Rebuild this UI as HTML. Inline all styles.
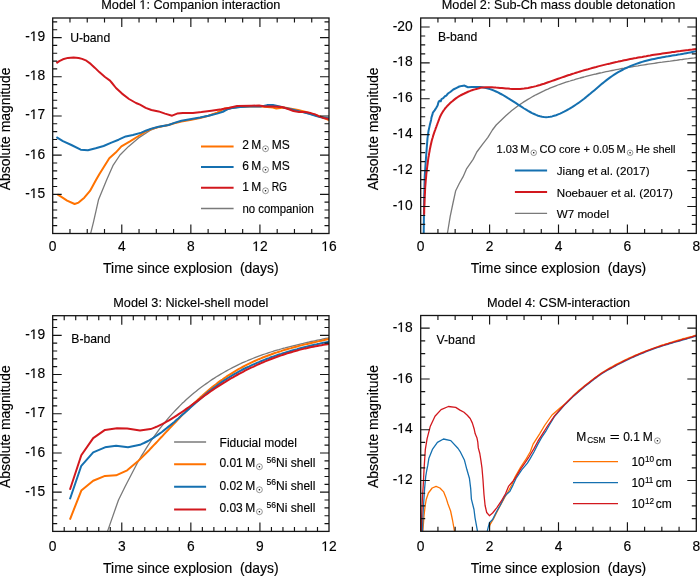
<!DOCTYPE html>
<html><head><meta charset="utf-8"><style>
html,body{margin:0;padding:0;background:#fff;}
body{width:700px;height:576px;overflow:hidden;font-family:"Liberation Sans", sans-serif;}
svg{display:block;will-change:transform;}
text{font-family:"Liberation Sans", sans-serif;stroke:#000;stroke-width:0.15px;}
.one{fill:#000;stroke:#000;stroke-width:22px;}
.sun{fill-opacity:0;stroke-opacity:0;}
</style></head><body>
<svg width="700" height="576" viewBox="0 0 700 576" font-family='"Liberation Sans", sans-serif' fill="#000"><defs><clipPath id="c1"><rect x="52.7" y="18.0" width="276.30" height="215.50"/></clipPath><clipPath id="c2"><rect x="420.7" y="18.0" width="275.60" height="215.40"/></clipPath><clipPath id="c3"><rect x="52.7" y="315.7" width="276.30" height="215.70"/></clipPath><clipPath id="c4"><rect x="420.7" y="315.5" width="275.60" height="215.80"/></clipPath></defs><g clip-path="url(#c1)"><polyline points="90.6,233.6 93.4,222.3 96.3,209.7 98.6,199.4 102.6,189.7 106.6,180.0 112.9,165.7 120.0,155.0 128.6,146.4 138.6,137.9 150.0,130.5 158.6,127.0 168.6,125.0 181.4,121.0 190.0,119.8 200.0,117.8 217.1,113.0 232.9,107.9 251.4,105.9 270.0,105.6 284.3,107.9 301.4,111.8 317.1,116.2 329.5,119.7" fill="none" stroke="#7a7a7a" stroke-width="1.3" stroke-linejoin="round" stroke-linecap="butt"/><polyline points="57.4,194.3 61.4,196.9 67.1,200.6 74.6,204.0 78.6,202.6 84.3,197.7 90.0,190.9 95.7,180.6 99.3,174.3 109.3,158.3 115.7,152.6 121.4,146.4 130.0,141.4 138.6,136.0 145.7,131.5 151.4,129.0 158.6,127.0 168.6,125.0 174.3,123.3 181.4,121.5 190.0,120.0 200.0,118.0 208.6,115.7 217.1,112.6 224.3,108.5 232.9,107.6 240.0,107.1 250.0,106.4 262.0,106.5 272.9,107.6 276.3,108.5 284.3,107.6 291.1,108.7 298.0,109.9 304.9,111.6 314.0,114.4 320.9,116.7 329.5,120.4" fill="none" stroke="#ff7200" stroke-width="2.0" stroke-linejoin="round" stroke-linecap="butt"/><polyline points="56.4,137.1 62.9,141.1 71.4,145.0 80.7,149.7 87.9,150.3 95.7,148.3 103.6,146.0 111.4,142.6 118.6,139.7 125.7,136.4 132.9,135.0 141.4,132.6 145.7,130.7 151.4,128.6 158.6,126.7 168.6,125.0 174.3,122.9 181.4,120.7 190.0,119.3 200.0,117.6 208.6,115.7 217.1,113.6 222.9,111.9 227.1,109.3 232.9,107.9 240.0,107.1 250.0,106.4 261.4,106.4 267.1,105.1 272.9,105.1 279.7,106.4 284.3,107.6 288.9,108.7 295.7,110.4 302.6,112.1 309.4,113.9 316.3,116.1 320.9,117.3 329.5,118.4" fill="none" stroke="#1570b0" stroke-width="2.0" stroke-linejoin="round" stroke-linecap="butt"/><polyline points="56.4,63.1 59.3,61.1 62.9,59.3 67.9,57.9 73.6,57.5 78.6,58.0 82.1,58.9 86.4,60.7 90.7,63.9 95.0,67.9 99.3,72.1 105.0,77.0 110.0,80.6 112.0,83.0 116.0,88.0 122.0,93.6 129.0,99.0 136.0,103.0 140.0,104.7 145.7,107.9 151.4,110.0 158.6,111.4 165.0,113.6 172.1,115.7 177.1,113.6 182.9,113.0 192.9,113.0 201.4,112.1 211.4,110.7 221.4,109.3 228.6,107.9 237.1,106.1 251.4,105.7 259.1,105.5 264.9,106.4 272.9,106.4 282.0,107.0 288.9,109.3 293.4,111.0 299.1,111.9 304.9,112.1 310.6,113.1 315.1,114.4 318.6,116.1 323.1,117.9 329.5,119.0" fill="none" stroke="#d2181e" stroke-width="2.0" stroke-linejoin="round" stroke-linecap="butt"/></g><g clip-path="url(#c2)"><polyline points="447.4,233.5 450.2,216.4 452.9,203.5 455.7,190.7 459.4,183.3 463.0,176.9 466.7,168.6 473.1,159.4 476.8,152.0 482.3,144.7 487.9,137.4 492.4,130.0 496.2,125.0 505.8,115.7 507.8,113.9 509.8,112.3 511.8,110.6 513.8,109.0 515.8,107.5 517.8,106.0 519.8,104.6 521.8,103.2 523.8,101.9 525.9,100.6 527.9,99.4 529.9,98.2 531.9,97.0 533.9,95.9 535.9,94.8 537.9,93.8 539.9,92.8 541.9,91.8 543.9,90.9 545.9,89.9 547.9,89.1 549.9,88.2 551.9,87.4 553.9,86.6 555.9,85.8 557.9,85.0 559.9,84.3 561.9,83.6 564.0,82.9 566.0,82.2 568.0,81.6 570.0,81.0 572.0,80.3 574.0,79.8 576.0,79.2 578.0,78.6 580.0,78.0 582.0,77.5 584.0,77.0 586.0,76.4 588.0,75.9 590.0,75.4 592.0,74.9 594.0,74.4 596.0,74.0 598.0,73.5 600.0,73.0 602.1,72.6 604.1,72.1 606.1,71.7 608.1,71.3 610.1,70.9 612.1,70.5 614.1,70.1 616.1,69.7 618.1,69.3 620.1,68.9 622.1,68.5 624.1,68.2 626.1,67.8 628.1,67.4 630.1,67.1 632.1,66.8 634.1,66.4 636.1,66.1 638.1,65.8 640.2,65.4 642.2,65.1 644.2,64.8 646.2,64.5 648.2,64.2 650.2,63.9 652.2,63.6 654.2,63.3 656.2,63.0 658.2,62.7 660.2,62.4 662.2,62.2 664.2,61.9 666.2,61.6 668.2,61.3 670.2,61.1 672.2,60.8 674.2,60.5 676.2,60.3 678.3,60.0 680.3,59.7 682.3,59.5 684.3,59.2 686.3,58.9 688.3,58.7 690.3,58.4 692.3,58.1 694.3,57.9 696.3,57.6" fill="none" stroke="#7a7a7a" stroke-width="1.3" stroke-linejoin="round" stroke-linecap="butt"/><polyline points="423.7,233.8 424.1,201.4 424.7,176.5 425.6,163.2 426.6,149.8 427.5,138.4 428.5,131.0 429.8,125.1 431.1,119.9 431.5,117.3 432.4,114.7 432.9,112.6 434.6,110.4 436.3,107.8 437.6,105.6 438.5,102.1 439.4,100.8 440.7,101.3 441.5,99.1 443.3,98.2 444.6,96.5 446.3,95.6 448.0,93.5 450.6,91.7 453.3,89.5 456.7,87.8 459.3,86.5 461.9,85.9 464.5,85.6 466.3,86.5 467.6,87.2 472.0,86.9 480.0,87.0 482.0,87.3 484.0,87.6 486.0,88.0 488.0,88.5 490.0,89.1 492.0,89.8 494.0,90.6 496.0,91.5 498.0,92.4 500.0,93.5 502.0,94.5 504.0,95.7 506.0,96.8 508.0,98.1 510.0,99.3 512.0,100.6 514.0,101.9 516.0,103.2 518.1,104.6 520.1,105.9 522.1,107.2 524.1,108.5 526.1,109.7 528.1,110.9 530.1,112.0 532.1,113.1 534.1,114.0 536.1,114.9 538.1,115.7 540.1,116.3 542.1,116.8 544.1,117.1 546.1,117.2 548.1,117.1 550.1,116.8 552.1,116.4 554.1,115.8 556.1,115.2 558.1,114.4 560.1,113.6 562.1,112.7 564.1,111.7 566.1,110.6 568.1,109.5 570.1,108.3 572.1,107.1 574.1,105.8 576.1,104.5 578.1,103.2 580.1,101.7 582.1,100.2 584.1,98.7 586.1,97.1 588.1,95.4 590.2,93.8 592.2,92.1 594.2,90.4 596.2,88.7 598.2,87.0 600.2,85.3 602.2,83.6 604.2,82.0 606.2,80.4 608.2,78.9 610.2,77.4 612.2,76.0 614.2,74.7 616.2,73.4 618.2,72.2 620.2,71.1 622.2,70.0 624.2,68.9 626.2,68.0 628.2,67.1 630.2,66.2 632.2,65.4 634.2,64.6 636.2,63.9 638.2,63.2 640.2,62.5 642.2,61.9 644.2,61.3 646.2,60.8 648.2,60.3 650.2,59.8 652.2,59.3 654.2,58.9 656.2,58.5 658.2,58.1 660.2,57.7 662.3,57.3 664.3,56.9 666.3,56.6 668.3,56.3 670.3,55.9 672.3,55.6 674.3,55.3 676.3,55.0 678.3,54.6 680.3,54.3 682.3,53.9 684.3,53.6 686.3,53.2 688.3,52.8 690.3,52.4 692.3,52.0 694.3,51.6 696.3,51.1" fill="none" stroke="#1570b0" stroke-width="2.0" stroke-linejoin="round" stroke-linecap="butt"/><polyline points="424.1,214.7 424.2,212.8 424.2,210.2 424.3,207.0 424.5,203.7 424.6,200.4 424.7,197.5 424.8,194.9 425.0,192.3 425.1,189.8 425.2,187.3 425.4,184.8 425.6,182.3 425.8,179.7 426.1,177.1 426.3,174.5 426.6,172.0 426.9,169.4 427.2,167.0 427.5,164.6 427.8,162.3 428.1,160.1 428.4,157.8 428.8,155.7 429.1,153.6 429.5,151.6 429.8,149.6 430.2,147.7 430.6,145.8 431.0,144.0 431.4,142.2 431.8,140.5 432.3,138.8 432.8,137.2 433.2,135.6 433.7,134.1 434.2,132.6 434.7,131.1 435.2,129.8 435.7,128.4 436.2,127.1 436.7,125.7 437.2,124.4 437.7,123.0 438.2,121.7 438.7,120.3 439.2,119.0 439.7,117.7 440.2,116.5 440.7,115.4 441.3,114.3 441.9,113.3 442.5,112.3 443.1,111.3 443.7,110.4 444.4,109.5 445.0,108.6 445.7,107.7 446.5,106.9 447.2,106.0 448.0,105.2 448.8,104.4 449.7,103.6 450.5,102.7 451.4,101.9 452.4,101.2 453.3,100.4 454.3,99.6 455.2,98.9 456.2,98.1 457.3,97.4 458.3,96.7 459.3,96.1 460.3,95.5 461.3,95.0 462.3,94.5 463.3,94.0 464.4,93.5 465.4,93.0 466.5,92.5 467.5,92.0 468.6,91.5 469.7,91.1 470.8,90.6 472.0,90.2 473.3,89.8 474.9,89.4 476.4,89.0 477.9,88.6 479.1,88.3 480.0,88.1 480.0,87.8 482.0,87.6 484.0,87.4 486.0,87.3 488.0,87.2 490.0,87.3 492.0,87.3 494.0,87.4 496.0,87.6 498.0,87.7 500.0,87.9 502.0,88.1 504.0,88.3 506.0,88.5 508.0,88.6 510.0,88.8 512.0,88.9 514.0,89.0 516.0,89.0 518.1,89.0 520.1,88.9 522.1,88.7 524.1,88.5 526.1,88.2 528.1,87.9 530.1,87.5 532.1,87.1 534.1,86.6 536.1,86.1 538.1,85.5 540.1,85.0 542.1,84.3 544.1,83.7 546.1,83.0 548.1,82.3 550.1,81.6 552.1,80.9 554.1,80.2 556.1,79.5 558.1,78.8 560.1,78.1 562.1,77.4 564.1,76.7 566.1,76.0 568.1,75.3 570.1,74.7 572.1,74.0 574.1,73.4 576.1,72.7 578.1,72.1 580.1,71.5 582.1,70.9 584.1,70.3 586.1,69.7 588.1,69.2 590.2,68.6 592.2,68.0 594.2,67.5 596.2,67.0 598.2,66.4 600.2,65.9 602.2,65.4 604.2,64.9 606.2,64.4 608.2,63.9 610.2,63.5 612.2,63.0 614.2,62.5 616.2,62.1 618.2,61.6 620.2,61.2 622.2,60.8 624.2,60.3 626.2,59.9 628.2,59.5 630.2,59.1 632.2,58.7 634.2,58.3 636.2,58.0 638.2,57.6 640.2,57.2 642.2,56.9 644.2,56.5 646.2,56.2 648.2,55.8 650.2,55.5 652.2,55.1 654.2,54.8 656.2,54.5 658.2,54.2 660.2,53.9 662.3,53.6 664.3,53.3 666.3,53.0 668.3,52.7 670.3,52.4 672.3,52.1 674.3,51.9 676.3,51.6 678.3,51.3 680.3,51.1 682.3,50.8 684.3,50.5 686.3,50.3 688.3,50.1 690.3,49.8 692.3,49.6 694.3,49.3 696.3,49.1" fill="none" stroke="#d2181e" stroke-width="2.0" stroke-linejoin="round" stroke-linecap="butt"/></g><g clip-path="url(#c3)"><polyline points="107.5,531.4 116.1,506.8 118.5,500.0 125.0,486.8 127.2,482.5 137.6,462.5 139.6,459.0 141.6,455.6 143.7,452.3 145.7,449.1 147.7,445.9 149.7,442.9 151.7,439.9 153.8,437.0 155.8,434.2 157.8,431.4 159.8,428.7 161.8,426.1 163.9,423.6 165.9,421.1 167.9,418.7 169.9,416.4 171.9,414.1 174.0,411.9 176.0,409.8 178.0,407.7 180.0,405.6 182.0,403.6 184.1,401.7 186.1,399.8 188.1,398.0 190.1,396.2 192.1,394.5 194.2,392.8 196.2,391.2 198.2,389.6 200.2,388.0 202.2,386.5 204.3,385.0 206.3,383.6 208.3,382.2 210.3,380.8 212.3,379.4 214.4,378.1 216.4,376.8 218.4,375.6 220.4,374.4 222.4,373.2 224.5,372.0 226.5,370.9 228.5,369.8 230.5,368.7 232.5,367.6 234.6,366.6 236.6,365.6 238.6,364.6 240.6,363.7 242.6,362.7 244.7,361.8 246.7,361.0 248.7,360.1 250.7,359.3 252.7,358.5 254.8,357.7 256.8,356.9 258.8,356.1 260.8,355.4 262.8,354.7 264.9,354.0 266.9,353.3 268.9,352.6 270.9,352.0 272.9,351.4 275.0,350.7 277.0,350.1 279.0,349.6 281.0,349.0 283.0,348.4 285.1,347.9 287.1,347.3 289.1,346.8 291.1,346.3 293.1,345.8 295.2,345.3 297.2,344.8 299.2,344.3 301.2,343.8 303.2,343.4 305.3,342.9 307.3,342.4 309.3,342.0 311.3,341.5 313.3,341.1 315.4,340.7 317.4,340.2 319.4,339.8 321.4,339.4 323.4,338.9 325.5,338.5 327.5,338.1 329.5,337.7" fill="none" stroke="#7a7a7a" stroke-width="1.3" stroke-linejoin="round" stroke-linecap="butt"/><polyline points="69.9,519.6 81.3,490.6 93.2,480.7 105.0,475.9 116.1,475.3 127.2,470.3 137.6,461.6 149.6,449.7 151.6,447.5 153.6,445.4 155.7,443.2 157.7,441.1 159.7,438.9 161.7,436.8 163.7,434.6 165.8,432.4 167.8,430.3 169.8,428.1 171.8,426.0 173.9,423.8 175.9,421.7 177.9,419.6 179.9,417.5 181.9,415.4 184.0,413.4 186.0,411.3 188.0,409.3 190.0,407.3 192.0,405.3 194.1,403.3 196.1,401.4 198.1,399.5 200.1,397.6 202.2,395.8 204.2,394.0 206.2,392.2 208.2,390.5 210.2,388.8 212.3,387.1 214.3,385.5 216.3,384.0 218.3,382.4 220.3,380.9 222.4,379.5 224.4,378.1 226.4,376.7 228.4,375.4 230.5,374.1 232.5,372.8 234.5,371.6 236.5,370.4 238.5,369.2 240.6,368.1 242.6,367.0 244.6,365.9 246.6,364.9 248.6,363.9 250.7,362.9 252.7,361.9 254.7,361.0 256.7,360.1 258.8,359.2 260.8,358.4 262.8,357.5 264.8,356.7 266.8,356.0 268.9,355.2 270.9,354.5 272.9,353.7 274.9,353.0 276.9,352.4 279.0,351.7 281.0,351.1 283.0,350.4 285.0,349.8 287.1,349.2 289.1,348.6 291.1,348.1 293.1,347.5 295.1,347.0 297.2,346.5 299.2,345.9 301.2,345.4 303.2,344.9 305.2,344.4 307.3,343.9 309.3,343.5 311.3,343.0 313.3,342.5 315.4,342.1 317.4,341.6 319.4,341.1 321.4,340.7 323.4,340.2 325.5,339.8 327.5,339.3 329.5,338.9" fill="none" stroke="#ff7200" stroke-width="2.0" stroke-linejoin="round" stroke-linecap="butt"/><polyline points="69.9,499.2 81.3,465.8 93.2,452.4 105.0,447.3 116.1,445.8 128.0,447.2 140.0,444.8 142.0,443.9 144.0,443.0 146.0,442.0 148.1,441.0 150.1,439.8 152.1,438.6 154.1,437.3 156.1,436.0 158.1,434.6 160.2,433.2 162.2,431.7 164.2,430.1 166.2,428.5 168.2,426.9 170.2,425.3 172.3,423.6 174.3,421.9 176.3,420.1 178.3,418.4 180.3,416.6 182.3,414.8 184.4,413.0 186.4,411.2 188.4,409.4 190.4,407.6 192.4,405.8 194.4,404.0 196.4,402.2 198.5,400.4 200.5,398.7 202.5,396.9 204.5,395.2 206.5,393.5 208.5,391.9 210.6,390.3 212.6,388.7 214.6,387.2 216.6,385.7 218.6,384.2 220.6,382.8 222.7,381.4 224.7,380.1 226.7,378.8 228.7,377.5 230.7,376.3 232.7,375.1 234.8,373.9 236.8,372.8 238.8,371.7 240.8,370.6 242.8,369.5 244.8,368.5 246.8,367.5 248.9,366.6 250.9,365.6 252.9,364.7 254.9,363.8 256.9,362.9 258.9,362.1 261.0,361.2 263.0,360.4 265.0,359.6 267.0,358.8 269.0,358.1 271.0,357.3 273.1,356.6 275.1,355.9 277.1,355.2 279.1,354.5 281.1,353.9 283.1,353.2 285.1,352.6 287.2,352.0 289.2,351.4 291.2,350.8 293.2,350.2 295.2,349.6 297.2,349.1 299.3,348.5 301.3,348.0 303.3,347.5 305.3,347.0 307.3,346.5 309.3,346.0 311.4,345.5 313.4,345.0 315.4,344.6 317.4,344.1 319.4,343.7 321.4,343.2 323.5,342.8 325.5,342.4 327.5,342.0 329.5,341.5" fill="none" stroke="#1570b0" stroke-width="2.0" stroke-linejoin="round" stroke-linecap="butt"/><polyline points="69.9,489.7 81.3,455.3 93.2,438.1 105.0,429.9 117.0,428.2 127.2,428.6 140.0,430.5 150.5,429.1 152.5,428.4 154.5,427.6 156.5,426.8 158.5,425.9 160.6,424.9 162.6,423.9 164.6,422.8 166.6,421.7 168.6,420.6 170.6,419.4 172.6,418.1 174.6,416.9 176.6,415.6 178.7,414.2 180.7,412.9 182.7,411.5 184.7,410.1 186.7,408.6 188.7,407.2 190.7,405.8 192.7,404.3 194.7,402.8 196.8,401.4 198.8,399.9 200.8,398.5 202.8,397.0 204.8,395.5 206.8,394.1 208.8,392.7 210.8,391.3 212.8,389.9 214.9,388.5 216.9,387.2 218.9,385.9 220.9,384.6 222.9,383.3 224.9,382.1 226.9,380.8 228.9,379.6 230.9,378.4 233.0,377.3 235.0,376.1 237.0,375.0 239.0,373.9 241.0,372.8 243.0,371.8 245.0,370.7 247.0,369.7 249.1,368.7 251.1,367.7 253.1,366.8 255.1,365.8 257.1,364.9 259.1,364.0 261.1,363.1 263.1,362.3 265.1,361.4 267.2,360.6 269.2,359.8 271.2,359.0 273.2,358.2 275.2,357.5 277.2,356.8 279.2,356.0 281.2,355.4 283.2,354.7 285.3,354.0 287.3,353.4 289.3,352.8 291.3,352.2 293.3,351.6 295.3,351.0 297.3,350.5 299.3,349.9 301.3,349.4 303.4,348.9 305.4,348.4 307.4,348.0 309.4,347.5 311.4,347.1 313.4,346.7 315.4,346.3 317.4,345.9 319.4,345.5 321.5,345.2 323.5,344.8 325.5,344.5 327.5,344.2 329.5,343.9" fill="none" stroke="#d2181e" stroke-width="2.0" stroke-linejoin="round" stroke-linecap="butt"/></g><g clip-path="url(#c4)"><polyline points="422.9,531.3 424.0,516.0 425.1,506.1 426.2,499.5 428.4,493.0 432.2,488.0 436.1,486.4 439.9,488.0 443.7,491.9 445.9,497.4 448.0,504.0 450.6,511.0 452.5,520.0 454.5,531.3" fill="none" stroke="#ff7200" stroke-width="1.3" stroke-linejoin="round" stroke-linecap="butt"/><polyline points="489.3,527.0 489.9,524.8 493.7,518.4 499.1,507.6 504.4,498.0 508.5,491.0 512.0,484.5 515.0,477.0 520.7,467.0 526.5,458.4 530.3,451.7 533.1,444.1 535.5,440.3 539.8,433.6 544.6,425.5 552.0,415.0 560.0,408.0 562.5,406.0 564.5,404.2 566.6,402.4 568.6,400.5 570.6,398.5 572.6,396.4 574.7,394.3 576.7,392.4 578.7,390.6 580.7,388.9 582.8,387.2 584.8,385.6 586.8,384.0 588.9,382.4 590.9,380.8 592.9,379.3 594.9,377.8 597.0,376.3 599.0,374.8 601.0,373.4 603.0,372.1 605.1,370.8 607.1,369.5 609.1,368.3 611.2,367.2 613.2,366.0 615.2,364.9 617.2,363.8 619.3,362.8 621.3,361.8 623.3,360.8 625.3,359.8 627.4,358.9 629.4,357.9 631.4,357.0 633.5,356.1 635.5,355.2 637.5,354.4 639.5,353.5 641.6,352.7 643.6,351.9 645.6,351.1 647.6,350.3 649.7,349.5 651.7,348.8 653.7,348.1 655.8,347.3 657.8,346.6 659.8,345.9 661.8,345.2 663.9,344.6 665.9,343.9 667.9,343.3 669.9,342.6 672.0,342.0 674.0,341.4 676.0,340.8 678.1,340.2 680.1,339.6 682.1,339.0 684.1,338.5 686.2,337.9 688.2,337.3 690.2,336.8 692.2,336.3 694.3,335.7 696.3,335.2" fill="none" stroke="#ff7200" stroke-width="1.3" stroke-linejoin="round" stroke-linecap="butt"/><polyline points="422.4,531.3 422.9,516.0 423.7,502.8 424.6,488.6 425.7,476.6 426.8,470.0 427.8,465.2 428.9,458.2 432.6,449.1 437.4,442.4 443.5,439.0 450.8,440.6 458.1,448.5 460.0,451.3 464.5,460.3 466.8,469.3 469.4,478.2 470.7,488.6 471.4,499.1 474.0,509.5 475.0,517.6 477.5,531.3" fill="none" stroke="#1570b0" stroke-width="1.3" stroke-linejoin="round" stroke-linecap="butt"/><polyline points="487.2,531.3 489.4,522.7 492.6,519.5 495.8,513.0 500.1,505.5 504.4,496.9 506.6,494.2 509.8,491.5 513.0,485.1 516.0,478.5 521.7,469.9 527.4,463.2 530.3,458.4 534.1,451.7 537.9,444.1 541.7,437.4 545.6,431.7 549.4,425.0 554.7,416.2 562.5,407.2 564.5,405.1 566.6,403.0 568.6,401.0 570.6,399.1 572.6,397.1 574.7,395.3 576.7,393.5 578.7,391.7 580.7,390.0 582.8,388.3 584.8,386.6 586.8,385.0 588.9,383.4 590.9,381.8 592.9,380.2 594.9,378.6 597.0,377.1 599.0,375.6 601.0,374.3 603.0,372.9 605.1,371.7 607.1,370.5 609.1,369.4 611.2,368.3 613.2,367.2 615.2,366.1 617.2,365.0 619.3,364.0 621.3,363.0 623.3,361.9 625.3,360.9 627.4,360.0 629.4,359.0 631.4,358.0 633.5,357.1 635.5,356.2 637.5,355.3 639.5,354.4 641.6,353.6 643.6,352.8 645.6,351.9 647.6,351.1 649.7,350.4 651.7,349.6 653.7,348.9 655.8,348.2 657.8,347.5 659.8,346.8 661.8,346.2 663.9,345.5 665.9,344.9 667.9,344.3 669.9,343.7 672.0,343.1 674.0,342.5 676.0,341.9 678.1,341.4 680.1,340.8 682.1,340.2 684.1,339.6 686.2,339.1 688.2,338.5 690.2,337.9 692.2,337.3 694.3,336.7 696.3,336.1" fill="none" stroke="#1570b0" stroke-width="1.3" stroke-linejoin="round" stroke-linecap="butt"/><polyline points="421.3,531.3 421.8,513.8 422.4,498.4 423.3,484.2 424.0,470.0 425.3,449.7 427.1,438.7 430.2,426.6 435.0,416.3 441.1,409.6 448.4,406.5 455.7,407.4 460.0,410.1 464.0,412.3 467.3,415.2 470.2,418.5 472.4,423.1 474.1,428.7 475.2,433.8 476.9,437.7 477.8,442.2 478.3,447.9 479.8,453.5 480.9,460.3 482.0,468.2 483.0,480.0 483.6,489.0 484.0,494.7 485.1,505.5 486.7,512.5 489.4,515.7 492.6,513.0 496.9,507.6 501.2,501.2 505.5,493.7 508.7,486.1 512.5,481.8 515.0,478.5 520.7,468.9 525.5,462.2 529.3,456.5 534.1,448.4 537.9,441.2 542.7,433.6 547.5,426.0 554.7,415.6 562.5,406.7 564.5,404.6 566.6,402.5 568.6,400.5 570.6,398.5 572.6,396.6 574.7,394.8 576.7,393.0 578.7,391.2 580.7,389.5 582.8,387.8 584.8,386.1 586.8,384.5 588.9,382.8 590.9,381.2 592.9,379.7 594.9,378.1 597.0,376.6 599.0,375.2 601.0,373.8 603.0,372.5 605.1,371.2 607.1,370.0 609.1,368.9 611.2,367.8 613.2,366.7 615.2,365.6 617.2,364.5 619.3,363.5 621.3,362.5 623.3,361.4 625.3,360.4 627.4,359.5 629.4,358.5 631.4,357.5 633.5,356.6 635.5,355.7 637.5,354.8 639.5,353.9 641.6,353.1 643.6,352.3 645.6,351.4 647.6,350.6 649.7,349.9 651.7,349.1 653.7,348.4 655.8,347.7 657.8,347.0 659.8,346.3 661.8,345.7 663.9,345.1 665.9,344.4 667.9,343.8 669.9,343.2 672.0,342.6 674.0,342.0 676.0,341.4 678.1,340.9 680.1,340.3 682.1,339.7 684.1,339.1 686.2,338.6 688.2,338.0 690.2,337.4 692.2,336.8 694.3,336.2 696.3,335.6" fill="none" stroke="#d2181e" stroke-width="1.3" stroke-linejoin="round" stroke-linecap="butt"/></g><path d="M69.97 233.50v-4.5M69.97 18.00v4.5M87.24 233.50v-4.5M87.24 18.00v4.5M104.51 233.50v-4.5M104.51 18.00v4.5M121.78 233.50v-9.0M121.78 18.00v9.0M139.04 233.50v-4.5M139.04 18.00v4.5M156.31 233.50v-4.5M156.31 18.00v4.5M173.58 233.50v-4.5M173.58 18.00v4.5M190.85 233.50v-9.0M190.85 18.00v9.0M208.12 233.50v-4.5M208.12 18.00v4.5M225.39 233.50v-4.5M225.39 18.00v4.5M242.66 233.50v-4.5M242.66 18.00v4.5M259.93 233.50v-9.0M259.93 18.00v9.0M277.19 233.50v-4.5M277.19 18.00v4.5M294.46 233.50v-4.5M294.46 18.00v4.5M311.73 233.50v-4.5M311.73 18.00v4.5M52.70 21.92h4.5M329.00 21.92h-4.5M52.70 29.75h4.5M329.00 29.75h-4.5M52.70 37.59h9.0M329.00 37.59h-9.0M52.70 45.43h4.5M329.00 45.43h-4.5M52.70 53.26h4.5M329.00 53.26h-4.5M52.70 61.10h4.5M329.00 61.10h-4.5M52.70 68.94h4.5M329.00 68.94h-4.5M52.70 76.77h9.0M329.00 76.77h-9.0M52.70 84.61h4.5M329.00 84.61h-4.5M52.70 92.45h4.5M329.00 92.45h-4.5M52.70 100.28h4.5M329.00 100.28h-4.5M52.70 108.12h4.5M329.00 108.12h-4.5M52.70 115.95h9.0M329.00 115.95h-9.0M52.70 123.79h4.5M329.00 123.79h-4.5M52.70 131.63h4.5M329.00 131.63h-4.5M52.70 139.46h4.5M329.00 139.46h-4.5M52.70 147.30h4.5M329.00 147.30h-4.5M52.70 155.14h9.0M329.00 155.14h-9.0M52.70 162.97h4.5M329.00 162.97h-4.5M52.70 170.81h4.5M329.00 170.81h-4.5M52.70 178.65h4.5M329.00 178.65h-4.5M52.70 186.48h4.5M329.00 186.48h-4.5M52.70 194.32h9.0M329.00 194.32h-9.0M52.70 202.15h4.5M329.00 202.15h-4.5M52.70 209.99h4.5M329.00 209.99h-4.5M52.70 217.83h4.5M329.00 217.83h-4.5M52.70 225.66h4.5M329.00 225.66h-4.5" stroke="#141414" stroke-width="1.15" fill="none"/><rect x="52.7" y="18.0" width="276.30" height="215.50" stroke="#141414" stroke-width="1.3" fill="none"/><path d="M437.93 233.40v-4.5M437.93 18.00v4.5M455.15 233.40v-4.5M455.15 18.00v4.5M472.38 233.40v-4.5M472.38 18.00v4.5M489.60 233.40v-9.0M489.60 18.00v9.0M506.82 233.40v-4.5M506.82 18.00v4.5M524.05 233.40v-4.5M524.05 18.00v4.5M541.27 233.40v-4.5M541.27 18.00v4.5M558.50 233.40v-9.0M558.50 18.00v9.0M575.72 233.40v-4.5M575.72 18.00v4.5M592.95 233.40v-4.5M592.95 18.00v4.5M610.17 233.40v-4.5M610.17 18.00v4.5M627.40 233.40v-9.0M627.40 18.00v9.0M644.62 233.40v-4.5M644.62 18.00v4.5M661.85 233.40v-4.5M661.85 18.00v4.5M679.07 233.40v-4.5M679.07 18.00v4.5M420.70 26.98h9.0M696.30 26.98h-9.0M420.70 35.95h4.5M696.30 35.95h-4.5M420.70 44.92h4.5M696.30 44.92h-4.5M420.70 53.90h4.5M696.30 53.90h-4.5M420.70 62.88h9.0M696.30 62.88h-9.0M420.70 71.85h4.5M696.30 71.85h-4.5M420.70 80.83h4.5M696.30 80.83h-4.5M420.70 89.80h4.5M696.30 89.80h-4.5M420.70 98.78h9.0M696.30 98.78h-9.0M420.70 107.75h4.5M696.30 107.75h-4.5M420.70 116.72h4.5M696.30 116.72h-4.5M420.70 125.70h4.5M696.30 125.70h-4.5M420.70 134.68h9.0M696.30 134.68h-9.0M420.70 143.65h4.5M696.30 143.65h-4.5M420.70 152.62h4.5M696.30 152.62h-4.5M420.70 161.60h4.5M696.30 161.60h-4.5M420.70 170.58h9.0M696.30 170.58h-9.0M420.70 179.55h4.5M696.30 179.55h-4.5M420.70 188.53h4.5M696.30 188.53h-4.5M420.70 197.50h4.5M696.30 197.50h-4.5M420.70 206.47h9.0M696.30 206.47h-9.0M420.70 215.45h4.5M696.30 215.45h-4.5M420.70 224.43h4.5M696.30 224.43h-4.5" stroke="#141414" stroke-width="1.15" fill="none"/><rect x="420.7" y="18.0" width="275.60" height="215.40" stroke="#141414" stroke-width="1.3" fill="none"/><path d="M64.21 531.40v-4.5M64.21 315.70v4.5M75.72 531.40v-4.5M75.72 315.70v4.5M87.24 531.40v-4.5M87.24 315.70v4.5M98.75 531.40v-4.5M98.75 315.70v4.5M110.26 531.40v-4.5M110.26 315.70v4.5M121.78 531.40v-9.0M121.78 315.70v9.0M133.29 531.40v-4.5M133.29 315.70v4.5M144.80 531.40v-4.5M144.80 315.70v4.5M156.31 531.40v-4.5M156.31 315.70v4.5M167.83 531.40v-4.5M167.83 315.70v4.5M179.34 531.40v-4.5M179.34 315.70v4.5M190.85 531.40v-9.0M190.85 315.70v9.0M202.36 531.40v-4.5M202.36 315.70v4.5M213.88 531.40v-4.5M213.88 315.70v4.5M225.39 531.40v-4.5M225.39 315.70v4.5M236.90 531.40v-4.5M236.90 315.70v4.5M248.41 531.40v-4.5M248.41 315.70v4.5M259.93 531.40v-9.0M259.93 315.70v9.0M271.44 531.40v-4.5M271.44 315.70v4.5M282.95 531.40v-4.5M282.95 315.70v4.5M294.46 531.40v-4.5M294.46 315.70v4.5M305.98 531.40v-4.5M305.98 315.70v4.5M317.49 531.40v-4.5M317.49 315.70v4.5M52.70 319.62h4.5M329.00 319.62h-4.5M52.70 327.47h4.5M329.00 327.47h-4.5M52.70 335.31h9.0M329.00 335.31h-9.0M52.70 343.15h4.5M329.00 343.15h-4.5M52.70 351.00h4.5M329.00 351.00h-4.5M52.70 358.84h4.5M329.00 358.84h-4.5M52.70 366.68h4.5M329.00 366.68h-4.5M52.70 374.53h9.0M329.00 374.53h-9.0M52.70 382.37h4.5M329.00 382.37h-4.5M52.70 390.21h4.5M329.00 390.21h-4.5M52.70 398.06h4.5M329.00 398.06h-4.5M52.70 405.90h4.5M329.00 405.90h-4.5M52.70 413.75h9.0M329.00 413.75h-9.0M52.70 421.59h4.5M329.00 421.59h-4.5M52.70 429.43h4.5M329.00 429.43h-4.5M52.70 437.28h4.5M329.00 437.28h-4.5M52.70 445.12h4.5M329.00 445.12h-4.5M52.70 452.96h9.0M329.00 452.96h-9.0M52.70 460.81h4.5M329.00 460.81h-4.5M52.70 468.65h4.5M329.00 468.65h-4.5M52.70 476.49h4.5M329.00 476.49h-4.5M52.70 484.34h4.5M329.00 484.34h-4.5M52.70 492.18h9.0M329.00 492.18h-9.0M52.70 500.03h4.5M329.00 500.03h-4.5M52.70 507.87h4.5M329.00 507.87h-4.5M52.70 515.71h4.5M329.00 515.71h-4.5M52.70 523.56h4.5M329.00 523.56h-4.5" stroke="#141414" stroke-width="1.15" fill="none"/><rect x="52.7" y="315.7" width="276.30" height="215.70" stroke="#141414" stroke-width="1.3" fill="none"/><path d="M437.93 531.30v-4.5M437.93 315.50v4.5M455.15 531.30v-4.5M455.15 315.50v4.5M472.38 531.30v-4.5M472.38 315.50v4.5M489.60 531.30v-9.0M489.60 315.50v9.0M506.82 531.30v-4.5M506.82 315.50v4.5M524.05 531.30v-4.5M524.05 315.50v4.5M541.27 531.30v-4.5M541.27 315.50v4.5M558.50 531.30v-9.0M558.50 315.50v9.0M575.72 531.30v-4.5M575.72 315.50v4.5M592.95 531.30v-4.5M592.95 315.50v4.5M610.17 531.30v-4.5M610.17 315.50v4.5M627.40 531.30v-9.0M627.40 315.50v9.0M644.62 531.30v-4.5M644.62 315.50v4.5M661.85 531.30v-4.5M661.85 315.50v4.5M679.07 531.30v-4.5M679.07 315.50v4.5M420.70 328.19h9.0M696.30 328.19h-9.0M420.70 340.89h4.5M696.30 340.89h-4.5M420.70 353.58h4.5M696.30 353.58h-4.5M420.70 366.28h4.5M696.30 366.28h-4.5M420.70 378.97h9.0M696.30 378.97h-9.0M420.70 391.66h4.5M696.30 391.66h-4.5M420.70 404.36h4.5M696.30 404.36h-4.5M420.70 417.05h4.5M696.30 417.05h-4.5M420.70 429.75h9.0M696.30 429.75h-9.0M420.70 442.44h4.5M696.30 442.44h-4.5M420.70 455.14h4.5M696.30 455.14h-4.5M420.70 467.83h4.5M696.30 467.83h-4.5M420.70 480.52h9.0M696.30 480.52h-9.0M420.70 493.22h4.5M696.30 493.22h-4.5M420.70 505.91h4.5M696.30 505.91h-4.5M420.70 518.61h4.5M696.30 518.61h-4.5" stroke="#141414" stroke-width="1.15" fill="none"/><rect x="420.7" y="315.5" width="275.60" height="215.80" stroke="#141414" stroke-width="1.3" fill="none"/><text x="52.70" y="250.78" text-anchor="middle" font-size="13.8">0</text><text x="121.78" y="250.78" text-anchor="middle" font-size="13.8">4</text><text x="190.85" y="250.78" text-anchor="middle" font-size="13.8">8</text><text x="259.93" y="250.78" text-anchor="middle" font-size="13.8" class="fix1">&#8199;2</text><text x="329.00" y="250.78" text-anchor="middle" font-size="13.8" class="fix1">&#8199;6</text><text x="45.20" y="41.13" text-anchor="end" font-size="13.8" class="fix1">-&#8199;9</text><text x="45.20" y="80.31" text-anchor="end" font-size="13.8" class="fix1">-&#8199;8</text><text x="45.20" y="119.49" text-anchor="end" font-size="13.8" class="fix1">-&#8199;7</text><text x="45.20" y="158.68" text-anchor="end" font-size="13.8" class="fix1">-&#8199;6</text><text x="45.20" y="197.86" text-anchor="end" font-size="13.8" class="fix1">-&#8199;5</text><text x="420.70" y="250.78" text-anchor="middle" font-size="13.8">0</text><text x="489.60" y="250.78" text-anchor="middle" font-size="13.8">2</text><text x="558.50" y="250.78" text-anchor="middle" font-size="13.8">4</text><text x="627.40" y="250.78" text-anchor="middle" font-size="13.8">6</text><text x="696.30" y="250.78" text-anchor="middle" font-size="13.8">8</text><text x="412.60" y="30.52" text-anchor="end" font-size="13.8">-20</text><text x="412.60" y="66.42" text-anchor="end" font-size="13.8" class="fix1">-&#8199;8</text><text x="412.60" y="102.32" text-anchor="end" font-size="13.8" class="fix1">-&#8199;6</text><text x="412.60" y="138.22" text-anchor="end" font-size="13.8" class="fix1">-&#8199;4</text><text x="412.60" y="174.12" text-anchor="end" font-size="13.8" class="fix1">-&#8199;2</text><text x="412.60" y="210.02" text-anchor="end" font-size="13.8" class="fix1">-&#8199;0</text><text x="52.70" y="550.78" text-anchor="middle" font-size="13.8">0</text><text x="121.78" y="550.78" text-anchor="middle" font-size="13.8">3</text><text x="190.85" y="550.78" text-anchor="middle" font-size="13.8">6</text><text x="259.93" y="550.78" text-anchor="middle" font-size="13.8">9</text><text x="329.00" y="550.78" text-anchor="middle" font-size="13.8" class="fix1">&#8199;2</text><text x="45.20" y="338.85" text-anchor="end" font-size="13.8" class="fix1">-&#8199;9</text><text x="45.20" y="378.07" text-anchor="end" font-size="13.8" class="fix1">-&#8199;8</text><text x="45.20" y="417.29" text-anchor="end" font-size="13.8" class="fix1">-&#8199;7</text><text x="45.20" y="456.50" text-anchor="end" font-size="13.8" class="fix1">-&#8199;6</text><text x="45.20" y="495.72" text-anchor="end" font-size="13.8" class="fix1">-&#8199;5</text><text x="420.70" y="550.78" text-anchor="middle" font-size="13.8">0</text><text x="489.60" y="550.78" text-anchor="middle" font-size="13.8">2</text><text x="558.50" y="550.78" text-anchor="middle" font-size="13.8">4</text><text x="627.40" y="550.78" text-anchor="middle" font-size="13.8">6</text><text x="696.30" y="550.78" text-anchor="middle" font-size="13.8">8</text><text x="412.60" y="331.73" text-anchor="end" font-size="13.8" class="fix1">-&#8199;8</text><text x="412.60" y="382.51" text-anchor="end" font-size="13.8" class="fix1">-&#8199;6</text><text x="412.60" y="433.29" text-anchor="end" font-size="13.8" class="fix1">-&#8199;4</text><text x="412.60" y="484.06" text-anchor="end" font-size="13.8" class="fix1">-&#8199;2</text><text x="190.85" y="9.00" text-anchor="middle" font-size="12.7" class="fix1">Model &#8199;: Companion interaction</text><text x="558.50" y="9.00" text-anchor="middle" font-size="12.7">Model 2: Sub-Ch mass double detonation</text><text x="190.85" y="307.00" text-anchor="middle" font-size="12.7">Model 3: Nickel-shell model</text><text x="558.50" y="307.00" text-anchor="middle" font-size="12.7">Model 4: CSM-interaction</text><text x="190.85" y="273.10" text-anchor="middle" font-size="13.9">Time since explosion&#160; (days)</text><text x="558.50" y="273.10" text-anchor="middle" font-size="13.9">Time since explosion&#160; (days)</text><text x="190.85" y="572.70" text-anchor="middle" font-size="13.9">Time since explosion&#160; (days)</text><text x="558.50" y="572.70" text-anchor="middle" font-size="13.9">Time since explosion&#160; (days)</text><text transform="translate(10.40,128.85) rotate(-90)" text-anchor="middle" font-size="13.9">Absolute magnitude</text><text transform="translate(378.20,128.80) rotate(-90)" text-anchor="middle" font-size="13.9">Absolute magnitude</text><text transform="translate(10.40,426.65) rotate(-90)" text-anchor="middle" font-size="13.9">Absolute magnitude</text><text transform="translate(378.20,426.50) rotate(-90)" text-anchor="middle" font-size="13.9">Absolute magnitude</text><text x="70.20" y="41.60" font-size="12.2">U-band</text><text x="437.90" y="41.20" font-size="12.2">B-band</text><text x="71.30" y="343.30" font-size="12.2">B-band</text><text x="436.60" y="343.50" font-size="12.2">V-band</text><line x1="201" y1="146.4" x2="233.6" y2="146.4" stroke="#ff7200" stroke-width="2"/><line x1="201" y1="167.1" x2="233.6" y2="167.1" stroke="#1570b0" stroke-width="2"/><line x1="201" y1="187.8" x2="233.6" y2="187.8" stroke="#d2181e" stroke-width="2"/><line x1="201" y1="208.5" x2="233.6" y2="208.5" stroke="#7a7a7a" stroke-width="1.3"/><text x="242.20" y="148.80" font-size="12.0">2&#8201;M<tspan font-size="8.6" dy="2.8" class="sun">&#8857;</tspan><tspan dy="-2.8">&#8201;MS</tspan></text><text x="242.20" y="169.60" font-size="12.0">6&#8201;M<tspan font-size="8.6" dy="2.8" class="sun">&#8857;</tspan><tspan dy="-2.8">&#8201;MS</tspan></text><text x="242.20" y="190.80" font-size="12.0">1&#8201;M<tspan font-size="8.6" dy="2.8" class="sun">&#8857;</tspan><tspan dy="-2.8">&#8201;<tspan textLength="15.4" lengthAdjust="spacingAndGlyphs">RG</tspan></tspan></text><text x="242.40" y="213.20" font-size="12.0" textLength="71.5" lengthAdjust="spacingAndGlyphs">no companion</text><text x="496.6" y="153.0" font-size="11.0">1.03&#8201;M<tspan font-size="7.9" dy="2.8" class="sun">&#8857;</tspan><tspan dy="-2.8"> CO core + 0.05&#8201;M</tspan><tspan font-size="7.9" dy="2.8" class="sun">&#8857;</tspan><tspan dy="-2.8"> He shell</tspan></text><line x1="514.9" y1="170.6" x2="547.1" y2="170.6" stroke="#1570b0" stroke-width="2"/><line x1="514.9" y1="192.0" x2="547.1" y2="192.0" stroke="#d2181e" stroke-width="2"/><line x1="514.9" y1="213.4" x2="547.1" y2="213.4" stroke="#7a7a7a" stroke-width="1.3"/><text x="556.80" y="174.90" font-size="11.6">Jiang et al. (2017)</text><text x="556.80" y="197.00" font-size="11.6">Noebauer et al. (2017)</text><text x="556.80" y="218.00" font-size="11.6">W7 model</text><line x1="174.1" y1="442.0" x2="206.1" y2="442.0" stroke="#7a7a7a" stroke-width="1.3"/><line x1="174.1" y1="464.3" x2="206.1" y2="464.3" stroke="#ff7200" stroke-width="2"/><line x1="174.1" y1="486.7" x2="206.1" y2="486.7" stroke="#1570b0" stroke-width="2"/><line x1="174.1" y1="509.5" x2="206.1" y2="509.5" stroke="#d2181e" stroke-width="2"/><text x="219.60" y="446.70" font-size="12.0">Fiducial model</text><text x="219.4" y="467.20" font-size="12.0">0.01&#8201;M<tspan font-size="8.6" dy="2.8" class="sun">&#8857;</tspan><tspan dy="-2.8"> </tspan><tspan font-size="8.6" dy="-4.5">56</tspan><tspan dy="4.5">Ni shell</tspan></text><text x="219.4" y="489.60" font-size="12.0">0.02&#8201;M<tspan font-size="8.6" dy="2.8" class="sun">&#8857;</tspan><tspan dy="-2.8"> </tspan><tspan font-size="8.6" dy="-4.5">56</tspan><tspan dy="4.5">Ni shell</tspan></text><text x="219.4" y="512.20" font-size="12.0">0.03&#8201;M<tspan font-size="8.6" dy="2.8" class="sun">&#8857;</tspan><tspan dy="-2.8"> </tspan><tspan font-size="8.6" dy="-4.5">56</tspan><tspan dy="4.5">Ni shell</tspan></text><text x="576.2" y="441.0" font-size="12.0">M<tspan x="587.2" font-size="9.6" dy="2.0" textLength="18.2" lengthAdjust="spacingAndGlyphs">CSM</tspan><tspan x="609.8" dy="-2.0" font-size="13" textLength="10" lengthAdjust="spacingAndGlyphs">=</tspan><tspan x="623.2">0.1</tspan><tspan x="642.8">M</tspan><tspan x="653.2" font-size="8.6" dy="2.8" class="sun">&#8857;</tspan></text><line x1="573" y1="461.6" x2="618" y2="461.6" stroke="#ff7200" stroke-width="1.3"/><line x1="573" y1="482.6" x2="618" y2="482.6" stroke="#1570b0" stroke-width="1.3"/><line x1="573" y1="503.6" x2="618" y2="503.6" stroke="#d2181e" stroke-width="1.3"/><text x="631.4" y="466.00" font-size="12.0">10<tspan font-size="8.2" dy="-4.3" x="644.9">10</tspan><tspan dy="4.3" x="655.8">cm</tspan></text><text x="631.4" y="487.00" font-size="12.0">10<tspan font-size="8.2" dy="-4.3" x="644.9">11</tspan><tspan dy="4.3" x="655.8">cm</tspan></text><text x="631.4" y="508.00" font-size="12.0">10<tspan font-size="8.2" dy="-4.3" x="644.9">12</tspan><tspan dy="4.3" x="655.8">cm</tspan></text><path d="M515 0L696 0L696 1409L530 1409L197 1180L197 1010L515 1237Z" transform="translate(252.250,251) scale(0.006738,-0.006738)" class="one"/><path d="M515 0L696 0L696 1409L530 1409L197 1180L197 1010L515 1237Z" transform="translate(321.320,251) scale(0.006738,-0.006738)" class="one"/><path d="M515 0L696 0L696 1409L530 1409L197 1180L197 1010L515 1237Z" transform="translate(29.841,41) scale(0.006738,-0.006738)" class="one"/><path d="M515 0L696 0L696 1409L530 1409L197 1180L197 1010L515 1237Z" transform="translate(29.841,80) scale(0.006738,-0.006738)" class="one"/><path d="M515 0L696 0L696 1409L530 1409L197 1180L197 1010L515 1237Z" transform="translate(29.841,119) scale(0.006738,-0.006738)" class="one"/><path d="M515 0L696 0L696 1409L530 1409L197 1180L197 1010L515 1237Z" transform="translate(29.841,159) scale(0.006738,-0.006738)" class="one"/><path d="M515 0L696 0L696 1409L530 1409L197 1180L197 1010L515 1237Z" transform="translate(29.841,198) scale(0.006738,-0.006738)" class="one"/><path d="M515 0L696 0L696 1409L530 1409L197 1180L197 1010L515 1237Z" transform="translate(397.241,66) scale(0.006738,-0.006738)" class="one"/><path d="M515 0L696 0L696 1409L530 1409L197 1180L197 1010L515 1237Z" transform="translate(397.241,102) scale(0.006738,-0.006738)" class="one"/><path d="M515 0L696 0L696 1409L530 1409L197 1180L197 1010L515 1237Z" transform="translate(397.241,138) scale(0.006738,-0.006738)" class="one"/><path d="M515 0L696 0L696 1409L530 1409L197 1180L197 1010L515 1237Z" transform="translate(397.241,174) scale(0.006738,-0.006738)" class="one"/><path d="M515 0L696 0L696 1409L530 1409L197 1180L197 1010L515 1237Z" transform="translate(397.241,210) scale(0.006738,-0.006738)" class="one"/><path d="M515 0L696 0L696 1409L530 1409L197 1180L197 1010L515 1237Z" transform="translate(321.320,551) scale(0.006738,-0.006738)" class="one"/><path d="M515 0L696 0L696 1409L530 1409L197 1180L197 1010L515 1237Z" transform="translate(29.841,339) scale(0.006738,-0.006738)" class="one"/><path d="M515 0L696 0L696 1409L530 1409L197 1180L197 1010L515 1237Z" transform="translate(29.841,378) scale(0.006738,-0.006738)" class="one"/><path d="M515 0L696 0L696 1409L530 1409L197 1180L197 1010L515 1237Z" transform="translate(29.841,417) scale(0.006738,-0.006738)" class="one"/><path d="M515 0L696 0L696 1409L530 1409L197 1180L197 1010L515 1237Z" transform="translate(29.841,456) scale(0.006738,-0.006738)" class="one"/><path d="M515 0L696 0L696 1409L530 1409L197 1180L197 1010L515 1237Z" transform="translate(29.841,496) scale(0.006738,-0.006738)" class="one"/><path d="M515 0L696 0L696 1409L530 1409L197 1180L197 1010L515 1237Z" transform="translate(397.241,332) scale(0.006738,-0.006738)" class="one"/><path d="M515 0L696 0L696 1409L530 1409L197 1180L197 1010L515 1237Z" transform="translate(397.241,383) scale(0.006738,-0.006738)" class="one"/><path d="M515 0L696 0L696 1409L530 1409L197 1180L197 1010L515 1237Z" transform="translate(397.241,433) scale(0.006738,-0.006738)" class="one"/><path d="M515 0L696 0L696 1409L530 1409L197 1180L197 1010L515 1237Z" transform="translate(397.241,484) scale(0.006738,-0.006738)" class="one"/><path d="M515 0L696 0L696 1409L530 1409L197 1180L197 1010L515 1237Z" transform="translate(139.358,9) scale(0.006201,-0.006201)" class="one"/><circle cx="265.53" cy="148.75" r="2.95" fill="none" stroke="#444" stroke-width="0.55"/><circle cx="265.53" cy="148.75" r="0.8" fill="#000"/><circle cx="265.53" cy="169.75" r="2.95" fill="none" stroke="#444" stroke-width="0.55"/><circle cx="265.53" cy="169.75" r="0.8" fill="#000"/><circle cx="265.53" cy="190.75" r="2.95" fill="none" stroke="#444" stroke-width="0.55"/><circle cx="265.53" cy="190.75" r="0.8" fill="#000"/><circle cx="533.73" cy="152.75" r="2.8" fill="none" stroke="#444" stroke-width="0.55"/><circle cx="533.73" cy="152.75" r="0.8" fill="#000"/><circle cx="630.06" cy="152.75" r="2.8" fill="none" stroke="#444" stroke-width="0.55"/><circle cx="630.06" cy="152.75" r="0.8" fill="#000"/><circle cx="259.42" cy="466.75" r="2.95" fill="none" stroke="#444" stroke-width="0.55"/><circle cx="259.42" cy="466.75" r="0.8" fill="#000"/><circle cx="259.42" cy="489.75" r="2.95" fill="none" stroke="#444" stroke-width="0.55"/><circle cx="259.42" cy="489.75" r="0.8" fill="#000"/><circle cx="259.42" cy="511.75" r="2.95" fill="none" stroke="#444" stroke-width="0.55"/><circle cx="259.42" cy="511.75" r="0.8" fill="#000"/><circle cx="657.45" cy="440.75" r="2.95" fill="none" stroke="#444" stroke-width="0.55"/><circle cx="657.45" cy="440.75" r="0.8" fill="#000"/></svg>
</body></html>
